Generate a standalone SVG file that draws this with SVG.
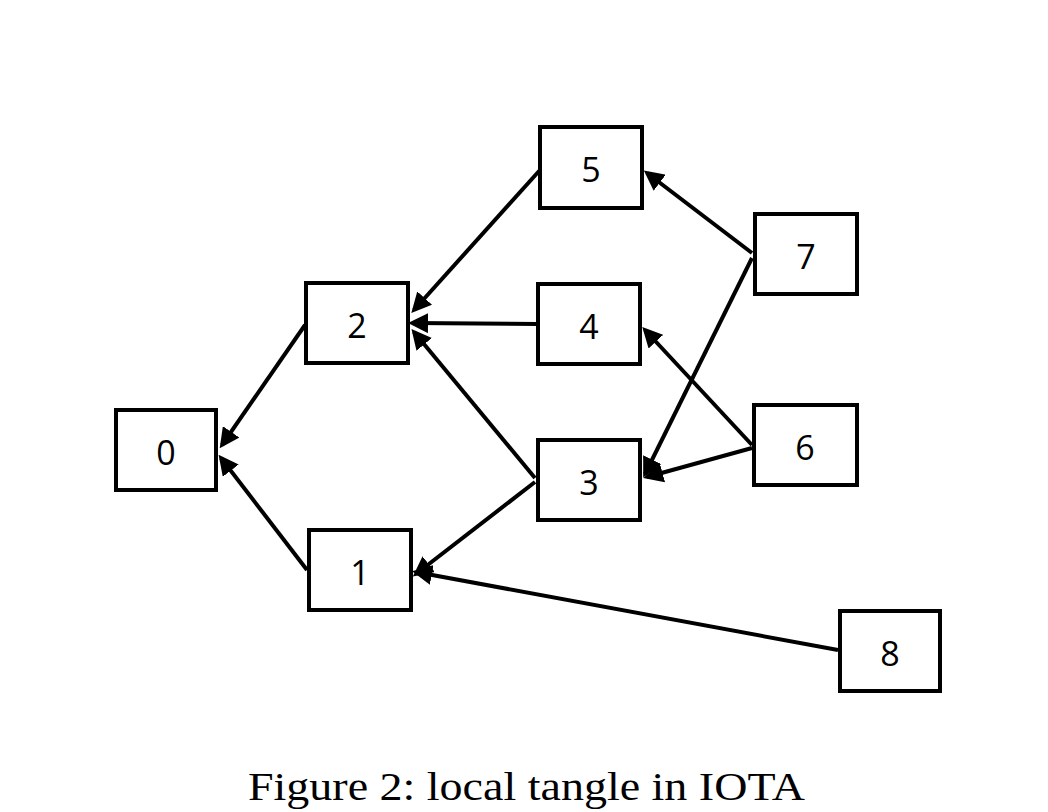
<svg xmlns="http://www.w3.org/2000/svg" width="1048" height="812" viewBox="0 0 1048 812">
<style>
.n rect{fill:#fff;stroke:#000;stroke-width:4}
.n text{font-family:"Open Sans","Liberation Sans",sans-serif;font-size:34px;text-anchor:middle;dominant-baseline:central}
.e line{stroke:#000;stroke-width:4;marker-end:url(#a)}
</style>
<defs><marker id="a" markerWidth="5" markerHeight="5" refX="4" refY="2.5" orient="auto" markerUnits="strokeWidth"><path d="M0,0L5,2.5L0,5z"/></marker></defs>
<rect width="1048" height="812" fill="#fff"/>
<g class="e">
<line x1="540" y1="170" x2="414" y2="310"/>
<line x1="538" y1="324" x2="412" y2="323"/>
<line x1="535" y1="478" x2="414" y2="332"/>
<line x1="305" y1="325" x2="222" y2="445"/>
<line x1="307" y1="570" x2="221" y2="458"/>
<line x1="535" y1="482" x2="416" y2="574"/>
<line x1="752" y1="253" x2="647" y2="173"/>
<line x1="752" y1="258" x2="645" y2="474"/>
<line x1="752" y1="445" x2="645" y2="330"/>
<line x1="752" y1="448" x2="647" y2="477"/>
<line x1="838" y1="650" x2="416" y2="572"/>
</g>
<g id="n0" class="n"><rect x="116" y="410" width="100" height="80"/><text x="166" y="452">0</text></g>
<g id="n1" class="n"><rect x="309" y="530" width="102" height="80"/><text x="360" y="572">1</text></g>
<g id="n2" class="n"><rect x="306" y="283" width="102" height="80"/><text x="357" y="325">2</text></g>
<g id="n3" class="n"><rect x="538" y="440" width="102" height="80"/><text x="589" y="482">3</text></g>
<g id="n4" class="n"><rect x="538" y="284" width="102" height="80"/><text x="589" y="326">4</text></g>
<g id="n5" class="n"><rect x="540" y="127" width="102" height="81"/><text x="591" y="169">5</text></g>
<g id="n6" class="n"><rect x="754" y="405" width="103" height="80"/><text x="805" y="447">6</text></g>
<g id="n7" class="n"><rect x="755" y="214" width="102" height="80"/><text x="806" y="256">7</text></g>
<g id="n8" class="n"><rect x="840" y="611" width="100" height="80"/><text x="890" y="653">8</text></g>
<text x="248" y="800" font-family="Liberation Serif,serif" font-size="40" textLength="557" lengthAdjust="spacingAndGlyphs">Figure 2: local tangle in IOTA</text>
</svg>
